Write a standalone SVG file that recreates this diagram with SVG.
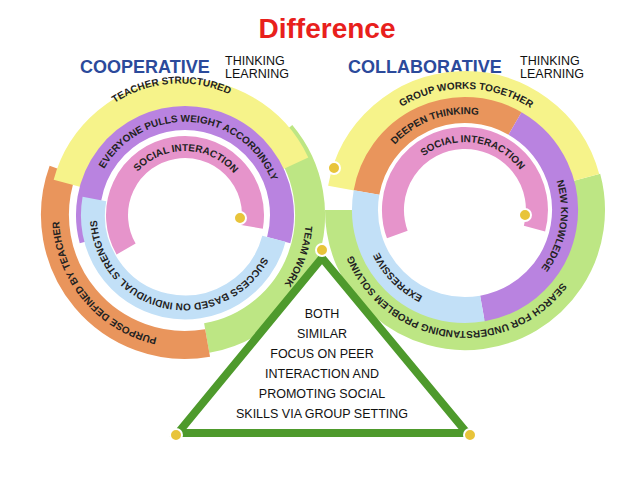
<svg xmlns="http://www.w3.org/2000/svg" width="638" height="478" viewBox="0 0 638 478">
<style>
.r{fill:none}
.y{stroke:#f6f38a}.o{stroke:#e9955c}.g{stroke:#bde684}.p{stroke:#b983e0}.b{stroke:#c2e0f7}.k{stroke:#e694cb}
.t{font-family:"Liberation Sans",Arial,sans-serif;font-weight:bold;fill:#222;font-size:10px}
.h{font-family:"Liberation Sans",Arial,sans-serif;font-weight:bold;fill:#2b4a9b;font-size:18px}
.s{font-family:"Liberation Sans",Arial,sans-serif;fill:#111;font-size:12.5px}
.d{fill:#e8c43a;stroke:#fff;stroke-width:2}
</style>
<defs>
<path id="ly" d="M63.2,182.3 A118,118 0 0 1 291.9,165.1"/>
<path id="lo" d="M207,339 A126,126 0 0 1 66.6,171.9"/>
<path id="lg" d="M277.7,137.2 A121,121 0 0 1 206,334.2"/>
<path id="lp" d="M95.2,239 A93,93 0 1 1 274.8,239"/>
<path id="lb" d="M270,237.8 A88,88 0 0 1 98.3,199.7"/>
<path id="lk" d="M129.6,247 A64,64 0 1 1 248,226.1"/>
<path id="ry" d="M345.8,189 A121,121 0 0 1 581.9,178.7"/>
<path id="rg" d="M581.9,241.3 A121,121 0 0 1 344,210"/>
<path id="ro" d="M370.5,193.3 A96,96 0 0 1 513,126.9"/>
<path id="rp" d="M513,126.9 A96,96 0 0 1 481.7,304.5"/>
<path id="rb" d="M481.7,304.5 A96,96 0 0 1 370.5,193.3"/>
<path id="rk" d="M401.1,233.3 A68,68 0 1 1 530.7,227.6"/>
</defs>
<rect width="638" height="478" fill="#fff"/>
<text x="327" y="38" text-anchor="middle" font-family="Liberation Sans,Arial,sans-serif" font-weight="bold" font-size="28" fill="#e8201c">Difference</text>
<text class="h" x="80" y="73">COOPERATIVE</text>
<text class="s" x="225" y="65">THINKING</text><text class="s" x="225" y="78">LEARNING</text>
<text class="h" x="348" y="73">COLLABORATIVE</text>
<text class="s" x="520" y="65">THINKING</text><text class="s" x="520" y="78">LEARNING</text>

<g id="left-spiral">
<path class="r g" stroke-width="30" d="M280.8,134.6 A125,125 0 0 1 206.7,338.1"/>
<path class="r o" stroke-width="28" d="M207.6,343 A130,130 0 0 1 62.8,170.5"/>
<path class="r y" stroke-width="28" d="M67.2,183.4 A122,122 0 0 1 295.6,163.4"/>
<path class="r p" stroke-width="24" d="M91.3,240.1 A97,97 0 1 1 278.7,240.1"/>
<path class="r b" stroke-width="24" d="M273.9,238.8 A92,92 0 0 1 94.4,199"/>
<path class="r k" stroke-width="22" d="M126.1,249 A68,68 0 1 1 252,226.8"/>
<text class="t"><textPath href="#ly" startOffset="50%" text-anchor="middle">TEACHER STRUCTURED</textPath></text>
<text class="t"><textPath href="#lo" startOffset="50%" text-anchor="middle">PURPOSE DEFINED BY TEACHER</textPath></text>
<text class="t"><textPath href="#lg" startOffset="50%" text-anchor="middle">TEAM WORK</textPath></text>
<text class="t"><textPath href="#lp" startOffset="52%" text-anchor="middle">EVERYONE PULLS WEIGHT ACCORDINGLY</textPath></text>
<text class="t" font-size="9.5"><textPath href="#lb" startOffset="50%" text-anchor="middle">SUCCESS BASED ON INDIVIDUAL STRENGTHS</textPath></text>
<text class="t" font-size="9.5"><textPath href="#lk" startOffset="55%" text-anchor="middle">SOCIAL INTERACTION</textPath></text>
<circle class="d" cx="240" cy="218" r="6"/>
</g>

<g id="right-spiral">
<path class="r g" stroke-width="30" d="M585.7,177.6 A125,125 0 1 1 340,210"/>
<path class="r y" stroke-width="28" d="M341.9,188.3 A125,125 0 0 1 585.7,177.6"/>
<path class="r o" stroke-width="26" d="M366.5,192.6 A100,100 0 0 1 515,123.4"/>
<path class="r p" stroke-width="26" d="M515,123.4 A100,100 0 0 1 482.4,308.5"/>
<path class="r b" stroke-width="26" d="M482.4,308.5 A100,100 0 0 1 366.5,192.6"/>
<path class="r k" stroke-width="22" d="M397.3,234.6 A72,72 0 1 1 534.5,228.6"/>
<text class="t"><textPath href="#ry" startOffset="52%" text-anchor="middle">GROUP WORKS TOGETHER</textPath></text>
<text class="t"><textPath href="#rg" startOffset="50%" text-anchor="middle">SEARCH FOR UNDERSTANDING PROBLEM SOLVING</textPath></text>
<text class="t"><textPath href="#ro" startOffset="55%" text-anchor="middle">DEEPEN THINKING</textPath></text>
<text class="t"><textPath href="#rp" startOffset="50%" text-anchor="middle">NEW KNOWLEDGE</textPath></text>
<text class="t"><textPath href="#rb" startOffset="50%" text-anchor="middle">EXPRESSIVE</textPath></text>
<text class="t" font-size="9.5"><textPath href="#rk" startOffset="55%" text-anchor="middle">SOCIAL INTERACTION</textPath></text>
<circle class="d" cx="525" cy="215" r="6"/>
<circle class="d" cx="334" cy="168" r="6"/>
</g>

<g id="both">
<polygon points="322,258 178,433 467,433" fill="#fff" stroke="#4e9a2c" stroke-width="8"/>
<g class="s" text-anchor="middle" font-size="13">
<text x="322" y="318">BOTH</text>
<text x="322" y="338">SIMILAR</text>
<text x="322" y="358">FOCUS ON PEER</text>
<text x="322" y="378">INTERACTION AND</text>
<text x="322" y="398">PROMOTING SOCIAL</text>
<text x="322" y="418">SKILLS VIA GROUP SETTING</text>
</g>
<circle class="d" cx="322" cy="250" r="6"/>
<circle class="d" cx="176" cy="435" r="6"/>
<circle class="d" cx="470" cy="435" r="6"/>
</g>
</svg>
